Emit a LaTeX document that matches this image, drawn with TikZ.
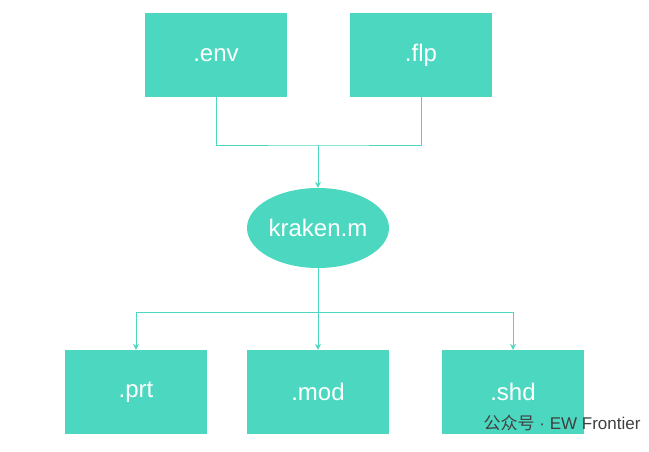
\documentclass[tikz,border=0pt]{standalone}
\usepackage{fontspec}
\setmainfont{Liberation Sans}
\newfontfamily\cjk{Noto Sans CJK SC}
\usetikzlibrary{shapes.geometric,arrows.meta}
\definecolor{teal1}{RGB}{76,216,192}
\begin{document}
\begin{tikzpicture}[x=1pt,y=-1pt,
  box/.style={fill=teal1,draw=none,minimum width=142pt,minimum height=84pt,text=white,font=\fontsize{24}{28}\selectfont},
  ell/.style={ellipse,fill=teal1,minimum width=142pt,minimum height=80pt,inner sep=0pt,text=white,font=\fontsize{24}{28}\selectfont},
  ln/.style={draw=teal1,line width=1pt},
  ar/.style={ln,-{Stealth[length=6pt,width=6pt]}}]
\useasboundingbox (0,0) rectangle (649,451);
\node[box] (env) at (216,55) {.env};
\node[box] (flp) at (421,55) {.flp};
\node[ell] (k) at (318,228) {kraken.m};
\node[box] (prt) at (136,392) {.prt};
\node[box] (mod) at (318,392) {.mod};
\node[box] (shd) at (513,392) {.shd};
\coordinate (j1) at (318,145);
\coordinate (j2) at (318,312);
\draw[ln] (env.south) |- (j1) -| (flp.south);
\draw[ar] (j1) -- (k.north);
\draw[ln] (k.south) -- (j2);
\draw[ar] (j2) -| (prt.north);
\draw[ar] (j2) -- (mod.north);
\draw[ar] (j2) -| (shd.north);
\node[text=black!75,font=\fontsize{17}{20}\selectfont,anchor=east] (wm) at (644,423) {{\cjk 公众号} · EW Frontier};
\end{tikzpicture}
\end{document}
